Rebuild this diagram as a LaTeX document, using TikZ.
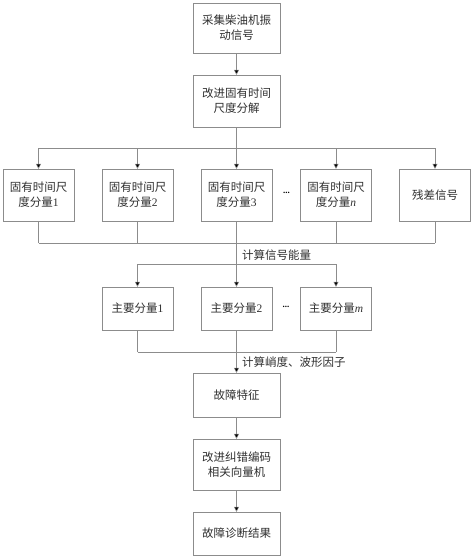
\documentclass[tikz,border=0pt]{standalone}
\usepackage{fontspec}
\setmainfont{Noto Sans CJK SC}
\newfontfamily\lat{Liberation Serif}
\usetikzlibrary{arrows.meta}
\begin{document}
\begin{tikzpicture}[x=1pt,y=-1pt,
	stepbox/.style={draw=linegray,fill=white,align=center,inner sep=0pt,font=\fontsize{11.5}{15}\selectfont,text=textgray},
	wide/.style={stepbox,minimum width=87pt},
	narrow/.style={stepbox,minimum width=71pt},
	conn/.style={draw=linegray,line width=0.5pt},
	arr/.style={conn,-{Triangle[length=5pt,width=5pt,fill=black]}},
	lbl/.style={anchor=west,inner sep=0pt,font=\fontsize{11.5}{15}\selectfont,text=textgray},
	dots/.style={inner sep=0pt,font=\lat\bfseries\small,text=black}]
					\definecolor{linegray}{HTML}{8C8C8C}
					\definecolor{textgray}{HTML}{303030}
					\useasboundingbox (0,0) rectangle (474,559);
					\node[wide,minimum height=50pt] (sig) at (236.5,28) {采集柴油机振\\动信号};
					\node[wide,minimum height=52pt] (dec) at (236.5,101) {改进固有时间\\尺度分解};
					\node[narrow,minimum height=52pt] (c1) at (38.5,195) {固有时间尺\\度分量{\lat 1}};
					\node[narrow,minimum height=52pt] (c2) at (137.5,195) {固有时间尺\\度分量{\lat 2}};
					\node[narrow,minimum height=52pt] (c3) at (236.5,195) {固有时间尺\\度分量{\lat 3}};
					\node[narrow,minimum height=52pt] (c4) at (336,195) {固有时间尺\\度分量{\lat\itshape n}};
					\node[narrow,minimum height=52pt] (c5) at (435,195) {残差信号};
					\node[dots] (dotsa) at (286.5,193) {...};
					\coordinate (busa) at (236.5,148);
					\coordinate (busb) at (236.5,243);
					\coordinate (busc) at (236.5,264);
					\node[narrow,minimum height=43pt] (m1) at (137.5,308.5) {主要分量{\lat 1}};
					\node[narrow,minimum height=43pt] (m2) at (236.5,308.5) {主要分量{\lat 2}};
					\node[narrow,minimum height=43pt] (m3) at (336,308.5) {主要分量{\lat\itshape m}};
					\node[dots] (dotsb) at (286,307) {...};
					\coordinate (busd) at (236.5,352);
					\node[wide,minimum height=44pt] (feat) at (236.5,395) {故障特征};
					\node[wide,minimum height=51pt] (svm) at (236.5,464.5) {改进纠错编码\\相关向量机};
					\node[wide,minimum height=43pt] (res) at (236.5,533.5) {故障诊断结果};
					\node[lbl] (ena) at (242,255) {计算信号能量};
					\node[lbl] (kur) at (242,362) {计算峭度、波形因子};

					\draw[arr] (sig) -- (dec);
					\draw[conn] (dec.south) -- (busa);
					\draw[conn] (c1 |- busa) -- (c5 |- busa);
					\foreach \i in {1,...,5} {
						\draw[arr] (c\i |- busa) -- (c\i.north);
						\draw[conn] (c\i.south) -- (c\i |- busb);
					}
					\draw[conn] (c1 |- busb) -- (c5 |- busb);
					\draw[conn] (busb) -- (busc);
					\draw[conn] (m1 |- busc) -- (m3 |- busc);
					\foreach \i in {1,2,3} {
						\draw[arr] (m\i |- busc) -- (m\i.north);
						\draw[conn] (m\i.south) -- (m\i |- busd);
					}
					\draw[conn] (m1 |- busd) -- (m3 |- busd);
					\draw[arr] (busd) -- (feat.north);
					\draw[arr] (feat) -- (svm);
					\draw[arr] (svm) -- (res);
				\end{tikzpicture}
\end{document}
